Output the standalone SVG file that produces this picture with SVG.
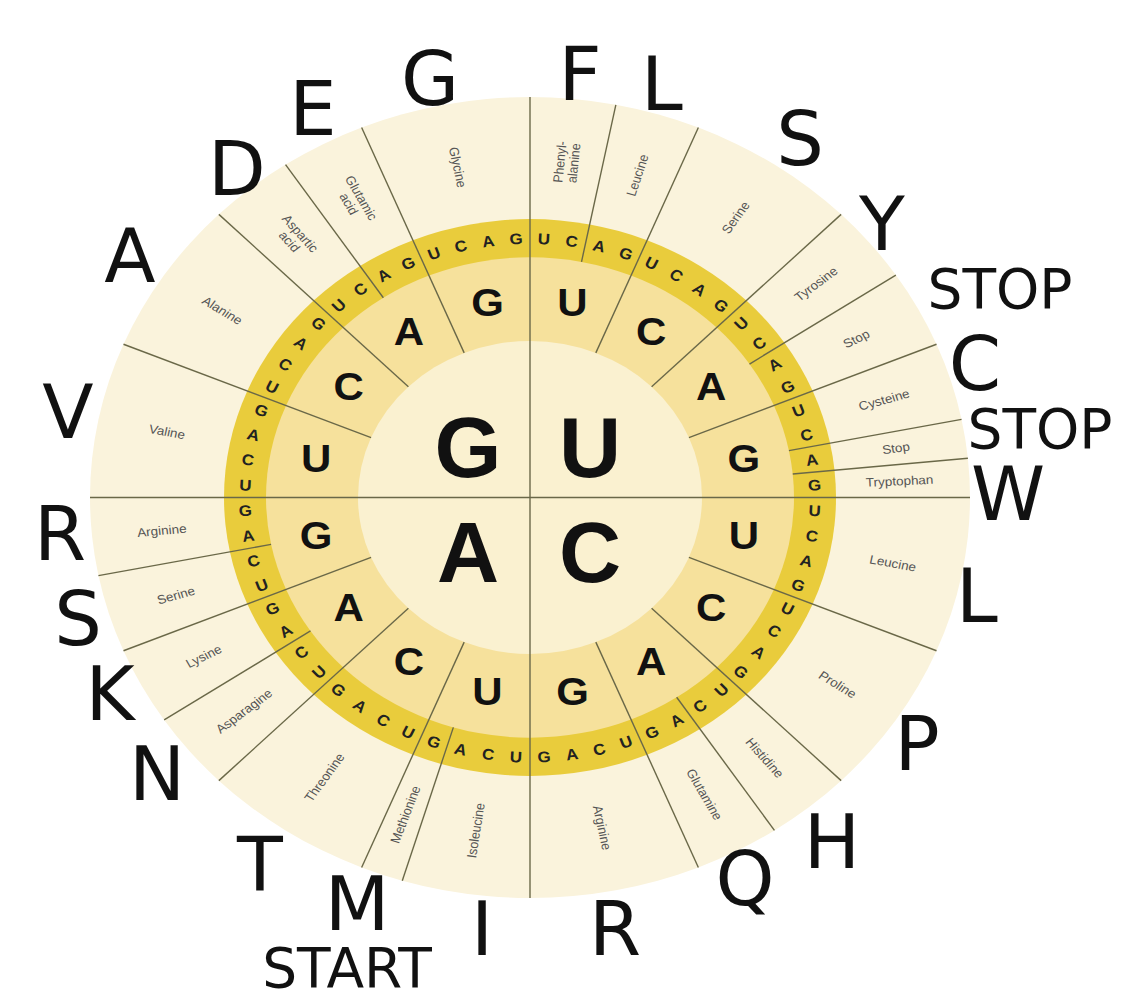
<svg xmlns="http://www.w3.org/2000/svg" width="1124" height="1002" viewBox="0 0 1124 1002">
<style>
.dv{stroke:#6a6848;stroke-width:1.4;vector-effect:non-scaling-stroke;fill:none}
.b3{font-family:"Liberation Sans",Arial,sans-serif;font-weight:bold;font-size:17px;fill:#222;text-anchor:middle;dominant-baseline:central}
.b2{font-family:"Liberation Sans",Arial,sans-serif;font-weight:bold;font-size:42px;fill:#111;text-anchor:middle;dominant-baseline:central}
.b1{font-family:"Liberation Sans",Arial,sans-serif;font-weight:bold;font-size:86px;fill:#111;text-anchor:middle;dominant-baseline:central}
.aa{font-family:"Liberation Sans",Arial,sans-serif;font-size:13.5px;fill:#555;text-anchor:middle;dominant-baseline:central}
.ol{font-family:"DejaVu Sans",sans-serif;font-size:75px;fill:#111;text-anchor:middle}
.os{font-family:"DejaVu Sans",sans-serif;font-size:55px;fill:#111;text-anchor:middle}
</style>
<rect width="1124" height="1002" fill="#fff"/>
<g id="wheel" transform="translate(530,497.5) scale(1,0.91)">
<circle r="440" fill="#faf3dc"/>
<circle r="306" fill="#e9cc3c"/>
<circle r="264" fill="#f6e19c"/>
<circle r="172" fill="#faf1d0"/>
</g>
<g id="connectors" transform="translate(530,497.5) scale(1,0.91)">
<line class="dv" x1="-440" y1="0" x2="440" y2="0"/>
<line class="dv" x1="0" y1="-440" x2="0" y2="440"/>
<g>
<line class="dv" x1="0" y1="-172" x2="0" y2="-440" transform="rotate(22.5)"/>
<line class="dv" x1="0" y1="-172" x2="0" y2="-440" transform="rotate(45)"/>
<line class="dv" x1="0" y1="-172" x2="0" y2="-440" transform="rotate(67.5)"/>
<line class="dv" x1="0" y1="-172" x2="0" y2="-440" transform="rotate(112.5)"/>
<line class="dv" x1="0" y1="-172" x2="0" y2="-440" transform="rotate(135)"/>
<line class="dv" x1="0" y1="-172" x2="0" y2="-440" transform="rotate(157.5)"/>
<line class="dv" x1="0" y1="-172" x2="0" y2="-440" transform="rotate(202.5)"/>
<line class="dv" x1="0" y1="-172" x2="0" y2="-440" transform="rotate(225)"/>
<line class="dv" x1="0" y1="-172" x2="0" y2="-440" transform="rotate(247.5)"/>
<line class="dv" x1="0" y1="-172" x2="0" y2="-440" transform="rotate(292.5)"/>
<line class="dv" x1="0" y1="-172" x2="0" y2="-440" transform="rotate(315)"/>
<line class="dv" x1="0" y1="-172" x2="0" y2="-440" transform="rotate(337.5)"/>
</g>
<g>
<line class="dv" x1="0" y1="-264" x2="0" y2="-440" transform="rotate(11.25)"/>
<line class="dv" x1="0" y1="-264" x2="0" y2="-440" transform="rotate(56.25)"/>
<line class="dv" x1="0" y1="-264" x2="0" y2="-440" transform="rotate(78.75)"/>
<line class="dv" x1="0" y1="-264" x2="0" y2="-440" transform="rotate(84.375)"/>
<line class="dv" x1="0" y1="-264" x2="0" y2="-440" transform="rotate(146.25)"/>
<line class="dv" x1="0" y1="-264" x2="0" y2="-440" transform="rotate(196.875)"/>
<line class="dv" x1="0" y1="-264" x2="0" y2="-440" transform="rotate(236.25)"/>
<line class="dv" x1="0" y1="-264" x2="0" y2="-440" transform="rotate(258.75)"/>
<line class="dv" x1="0" y1="-264" x2="0" y2="-440" transform="rotate(326.25)"/>
</g>
</g>
<g id="first-base">
<text class="b1" x="468" y="447">G</text>
<text class="b1" x="590" y="447">U</text>
<text class="b1" x="468" y="552">A</text>
<text class="b1" x="590" y="552">C</text>
</g>
<g id="second-base" transform="translate(530,497.5) scale(1,0.91)">
<text class="b2" transform="rotate(11.25) translate(0,-218) rotate(-11.25)">U</text>
<text class="b2" transform="rotate(33.75) translate(0,-218) rotate(-33.75)">C</text>
<text class="b2" transform="rotate(56.25) translate(0,-218) rotate(-56.25)">A</text>
<text class="b2" transform="rotate(78.75) translate(0,-218) rotate(-78.75)">G</text>
<text class="b2" transform="rotate(101.25) translate(0,-218) rotate(-101.25)">U</text>
<text class="b2" transform="rotate(123.75) translate(0,-218) rotate(-123.75)">C</text>
<text class="b2" transform="rotate(146.25) translate(0,-218) rotate(-146.25)">A</text>
<text class="b2" transform="rotate(168.75) translate(0,-218) rotate(-168.75)">G</text>
<text class="b2" transform="rotate(191.25) translate(0,-218) rotate(-191.25)">U</text>
<text class="b2" transform="rotate(213.75) translate(0,-218) rotate(-213.75)">C</text>
<text class="b2" transform="rotate(236.25) translate(0,-218) rotate(-236.25)">A</text>
<text class="b2" transform="rotate(258.75) translate(0,-218) rotate(-258.75)">G</text>
<text class="b2" transform="rotate(281.25) translate(0,-218) rotate(-281.25)">U</text>
<text class="b2" transform="rotate(303.75) translate(0,-218) rotate(-303.75)">C</text>
<text class="b2" transform="rotate(326.25) translate(0,-218) rotate(-326.25)">A</text>
<text class="b2" transform="rotate(348.75) translate(0,-218) rotate(-348.75)">G</text>
</g>
<g id="third-base" transform="translate(530,497.5) scale(1,0.91)">
<text class="b3" transform="rotate(2.8125) translate(0,-285)">U</text>
<text class="b3" transform="rotate(8.4375) translate(0,-285)">C</text>
<text class="b3" transform="rotate(14.0625) translate(0,-285)">A</text>
<text class="b3" transform="rotate(19.6875) translate(0,-285)">G</text>
<text class="b3" transform="rotate(25.3125) translate(0,-285)">U</text>
<text class="b3" transform="rotate(30.9375) translate(0,-285)">C</text>
<text class="b3" transform="rotate(36.5625) translate(0,-285)">A</text>
<text class="b3" transform="rotate(42.1875) translate(0,-285)">G</text>
<text class="b3" transform="rotate(47.8125) translate(0,-285) rotate(-90)">U</text>
<text class="b3" transform="rotate(53.4375) translate(0,-285) rotate(-90)">C</text>
<text class="b3" transform="rotate(59.0625) translate(0,-285) rotate(-90)">A</text>
<text class="b3" transform="rotate(64.6875) translate(0,-285) rotate(-90)">G</text>
<text class="b3" transform="rotate(70.3125) translate(0,-285) rotate(-90)">U</text>
<text class="b3" transform="rotate(75.9375) translate(0,-285) rotate(-90)">C</text>
<text class="b3" transform="rotate(81.5625) translate(0,-285) rotate(-90)">A</text>
<text class="b3" transform="rotate(87.1875) translate(0,-285) rotate(-90)">G</text>
<text class="b3" transform="rotate(92.8125) translate(0,-285) rotate(-90)">U</text>
<text class="b3" transform="rotate(98.4375) translate(0,-285) rotate(-90)">C</text>
<text class="b3" transform="rotate(104.0625) translate(0,-285) rotate(-90)">A</text>
<text class="b3" transform="rotate(109.6875) translate(0,-285) rotate(-90)">G</text>
<text class="b3" transform="rotate(115.3125) translate(0,-285) rotate(-90)">U</text>
<text class="b3" transform="rotate(120.9375) translate(0,-285) rotate(-90)">C</text>
<text class="b3" transform="rotate(126.5625) translate(0,-285) rotate(-90)">A</text>
<text class="b3" transform="rotate(132.1875) translate(0,-285) rotate(-90)">G</text>
<text class="b3" transform="rotate(137.8125) translate(0,-285) rotate(180)">U</text>
<text class="b3" transform="rotate(143.4375) translate(0,-285) rotate(180)">C</text>
<text class="b3" transform="rotate(149.0625) translate(0,-285) rotate(180)">A</text>
<text class="b3" transform="rotate(154.6875) translate(0,-285) rotate(180)">G</text>
<text class="b3" transform="rotate(160.3125) translate(0,-285) rotate(180)">U</text>
<text class="b3" transform="rotate(165.9375) translate(0,-285) rotate(180)">C</text>
<text class="b3" transform="rotate(171.5625) translate(0,-285) rotate(180)">A</text>
<text class="b3" transform="rotate(177.1875) translate(0,-285) rotate(180)">G</text>
<text class="b3" transform="rotate(182.8125) translate(0,-285) rotate(180)">U</text>
<text class="b3" transform="rotate(188.4375) translate(0,-285) rotate(180)">C</text>
<text class="b3" transform="rotate(194.0625) translate(0,-285) rotate(180)">A</text>
<text class="b3" transform="rotate(199.6875) translate(0,-285) rotate(180)">G</text>
<text class="b3" transform="rotate(205.3125) translate(0,-285) rotate(180)">U</text>
<text class="b3" transform="rotate(210.9375) translate(0,-285) rotate(180)">C</text>
<text class="b3" transform="rotate(216.5625) translate(0,-285) rotate(180)">A</text>
<text class="b3" transform="rotate(222.1875) translate(0,-285) rotate(180)">G</text>
<text class="b3" transform="rotate(227.8125) translate(0,-285) rotate(90)">U</text>
<text class="b3" transform="rotate(233.4375) translate(0,-285) rotate(90)">C</text>
<text class="b3" transform="rotate(239.0625) translate(0,-285) rotate(90)">A</text>
<text class="b3" transform="rotate(244.6875) translate(0,-285) rotate(90)">G</text>
<text class="b3" transform="rotate(250.3125) translate(0,-285) rotate(90)">U</text>
<text class="b3" transform="rotate(255.9375) translate(0,-285) rotate(90)">C</text>
<text class="b3" transform="rotate(261.5625) translate(0,-285) rotate(90)">A</text>
<text class="b3" transform="rotate(267.1875) translate(0,-285) rotate(90)">G</text>
<text class="b3" transform="rotate(272.8125) translate(0,-285) rotate(90)">U</text>
<text class="b3" transform="rotate(278.4375) translate(0,-285) rotate(90)">C</text>
<text class="b3" transform="rotate(284.0625) translate(0,-285) rotate(90)">A</text>
<text class="b3" transform="rotate(289.6875) translate(0,-285) rotate(90)">G</text>
<text class="b3" transform="rotate(295.3125) translate(0,-285) rotate(90)">U</text>
<text class="b3" transform="rotate(300.9375) translate(0,-285) rotate(90)">C</text>
<text class="b3" transform="rotate(306.5625) translate(0,-285) rotate(90)">A</text>
<text class="b3" transform="rotate(312.1875) translate(0,-285) rotate(90)">G</text>
<text class="b3" transform="rotate(317.8125) translate(0,-285)">U</text>
<text class="b3" transform="rotate(323.4375) translate(0,-285)">C</text>
<text class="b3" transform="rotate(329.0625) translate(0,-285)">A</text>
<text class="b3" transform="rotate(334.6875) translate(0,-285)">G</text>
<text class="b3" transform="rotate(340.3125) translate(0,-285)">U</text>
<text class="b3" transform="rotate(345.9375) translate(0,-285)">C</text>
<text class="b3" transform="rotate(351.5625) translate(0,-285)">A</text>
<text class="b3" transform="rotate(357.1875) translate(0,-285)">G</text>
</g>
<g id="amino-acids" transform="translate(530,497.5) scale(1,0.91)">
<text class="aa" transform="rotate(5.625) translate(0,-370) rotate(-90)"><tspan x="0" dy="-7">Phenyl-</tspan><tspan x="0" dy="14">alanine</tspan></text>
<text class="aa" transform="rotate(16.875) translate(0,-370) rotate(-90)">Leucine</text>
<text class="aa" transform="rotate(33.75) translate(0,-370) rotate(-90)">Serine</text>
<text class="aa" transform="rotate(50.625) translate(0,-370) rotate(-90)">Tyrosine</text>
<text class="aa" transform="rotate(61.875) translate(0,-370) rotate(-90)">Stop</text>
<text class="aa" transform="rotate(73.125) translate(0,-370) rotate(-90)">Cysteine</text>
<text class="aa" transform="rotate(81.5625) translate(0,-370) rotate(-90)">Stop</text>
<text class="aa" transform="rotate(87.1875) translate(0,-370) rotate(-90)">Tryptophan</text>
<text class="aa" transform="rotate(101.25) translate(0,-370) rotate(-90)">Leucine</text>
<text class="aa" transform="rotate(123.75) translate(0,-370) rotate(-90)">Proline</text>
<text class="aa" transform="rotate(140.625) translate(0,-370) rotate(-90)">Histidine</text>
<text class="aa" transform="rotate(151.875) translate(0,-370) rotate(-90)">Glutamine</text>
<text class="aa" transform="rotate(168.75) translate(0,-370) rotate(-90)">Arginine</text>
<text class="aa" transform="rotate(188.4375) translate(0,-370) rotate(90)">Isoleucine</text>
<text class="aa" transform="rotate(199.6875) translate(0,-370) rotate(90)">Methionine</text>
<text class="aa" transform="rotate(213.75) translate(0,-370) rotate(90)">Threonine</text>
<text class="aa" transform="rotate(230.625) translate(0,-370) rotate(90)">Asparagine</text>
<text class="aa" transform="rotate(241.875) translate(0,-370) rotate(90)">Lysine</text>
<text class="aa" transform="rotate(253.125) translate(0,-370) rotate(90)">Serine</text>
<text class="aa" transform="rotate(264.375) translate(0,-370) rotate(90)">Arginine</text>
<text class="aa" transform="rotate(281.25) translate(0,-370) rotate(90)">Valine</text>
<text class="aa" transform="rotate(303.75) translate(0,-370) rotate(90)">Alanine</text>
<text class="aa" transform="rotate(320.625) translate(0,-370) rotate(90)"><tspan x="0" dy="-7">Aspartic</tspan><tspan x="0" dy="14">acid</tspan></text>
<text class="aa" transform="rotate(331.875) translate(0,-370) rotate(90)"><tspan x="0" dy="-7">Glutamic</tspan><tspan x="0" dy="14">acid</tspan></text>
<text class="aa" transform="rotate(348.75) translate(0,-370) rotate(90)">Glycine</text>
</g>
<g id="letters">
<text class="ol" x="430" y="105">G</text>
<text class="ol" x="313" y="135">E</text>
<text class="ol" x="237" y="195">D</text>
<text class="ol" x="580" y="100">F</text>
<text class="ol" x="662" y="110">L</text>
<text class="ol" x="800" y="165">S</text>
<text class="ol" x="882" y="250">Y</text>
<text class="os" x="1000" y="308">STOP</text>
<text class="ol" x="975" y="390">C</text>
<text class="os" x="1040" y="448">STOP</text>
<text class="ol" x="1008" y="520">W</text>
<text class="ol" x="130" y="282">A</text>
<text class="ol" x="68" y="438">V</text>
<text class="ol" x="60" y="560">R</text>
<text class="ol" x="78" y="645">S</text>
<text class="ol" x="110" y="720">K</text>
<text class="ol" x="157" y="800">N</text>
<text class="ol" x="260" y="890">T</text>
<text class="ol" x="357" y="930">M</text>
<text class="os" x="347" y="987">START</text>
<text class="ol" x="482" y="955">I</text>
<text class="ol" x="615" y="955">R</text>
<text class="ol" x="745" y="905">Q</text>
<text class="ol" x="832" y="868">H</text>
<text class="ol" x="917" y="770">P</text>
<text class="ol" x="977" y="622">L</text>
</g>
</svg>
